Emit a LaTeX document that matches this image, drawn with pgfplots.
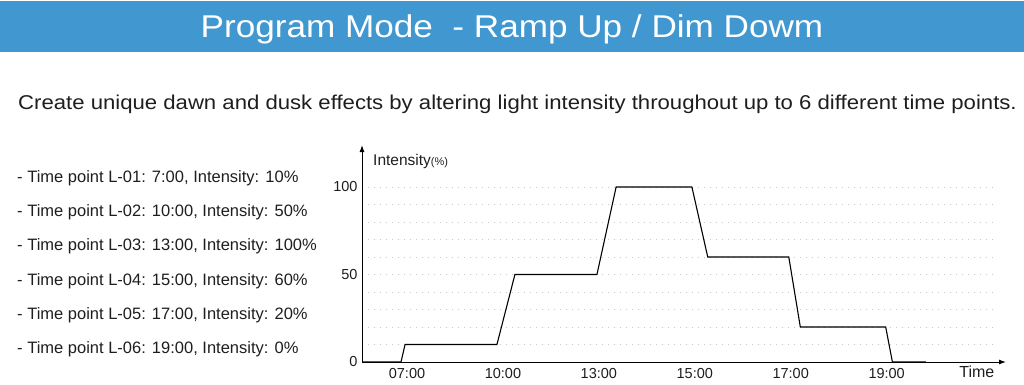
\documentclass[border=0pt]{standalone}
\usepackage{pgfplots}
\pgfplotsset{compat=1.18}
\usepackage{fontspec}
\setmainfont{Liberation Sans}
\usetikzlibrary{arrows.meta}
\definecolor{barblue}{RGB}{65,152,208}
\definecolor{txt}{RGB}{30,30,30}
\definecolor{gridc}{RGB}{200,200,200}
\begin{document}
\begin{tikzpicture}[x=1pt,y=1pt]
\path[use as bounding box] (0,0) rectangle (1024,384);
\fill[barblue] (0,384-1) rectangle (1024,384-52);
\node[anchor=base,text=white,inner sep=0pt,font=\fontsize{31.5}{36}\selectfont] at (512,384-37) {\scalebox{1.115}[1]{Program Mode\ \ - Ramp Up / Dim Dowm}};
\node[anchor=base west,text=txt,inner sep=0pt,font=\fontsize{20}{24}\selectfont] at (18,384-109) {\scalebox{1.107}[1]{Create unique dawn and dusk effects by altering light intensity throughout up to 6 different time points.}};
\begin{scope}[every node/.style={anchor=base west,text=txt,inner sep=0pt,font=\fontsize{16.5}{20}\selectfont}]
\node at (17,384-182) {- Time point L-01: 7:00, Intensity: 10\%};
\node at (17,384-216) {- Time point L-02: 10:00, Intensity: 50\%};
\node at (17,384-250) {- Time point L-03: 13:00, Intensity: 100\%};
\node at (17,384-285) {- Time point L-04: 15:00, Intensity: 60\%};
\node at (17,384-319) {- Time point L-05: 17:00, Intensity: 20\%};
\node at (17,384-353) {- Time point L-06: 19:00, Intensity: 0\%};
\end{scope}
\begin{axis}[
  at={(362pt,22pt)}, anchor=south west,
  scale only axis, width=634pt, height=217pt,
  xmin=-0.469, xmax=6.14, ymin=0, ymax=124,
  axis x line=bottom, axis y line=left,
  axis line style={black, line width=1pt, -{Latex[length=7pt,width=5pt]}},
  x axis line style={shorten >=-10pt},
  xtick={0,1,2,3,4,5},
  xticklabels={07:00,10:00,13:00,15:00,17:00,19:00},
  ytick={0,10,...,100},
  yticklabels={0,,,,,50,,,,,100},
  major tick length=0pt,
  ymajorgrids,
  major grid style={gridc, line width=1pt, dash pattern=on 1pt off 5pt},
  xticklabel style={font=\fontsize{14.5}{17}\selectfont, text=txt, yshift=-3pt},
  yticklabel style={font=\fontsize{14.5}{17}\selectfont, text=txt, xshift=-1pt},
  clip=false,
]
\addplot[black, line width=1.1pt, line join=miter] coordinates {
 (-0.469,0) (-0.0625,0) (-0.02,10) (0.9375,10) (1.125,50) (1.98,50)
 (2.18,100) (2.97,100) (3.135,60) (3.98,60) (4.10,20) (4.99,20)
 (5.06,0) (5.41,0)
};
\node[anchor=west,inner sep=0pt,text=txt] at (axis cs:-0.354,114.3) {\fontsize{15.5}{18}\selectfont Intensity\fontsize{11}{13}\selectfont(\%)};
\node[anchor=center,inner sep=0pt,text=txt,font=\fontsize{16}{19}\selectfont] at (axis cs:5.94,-5.8) {Time};
\end{axis}
\end{tikzpicture}
\end{document}
